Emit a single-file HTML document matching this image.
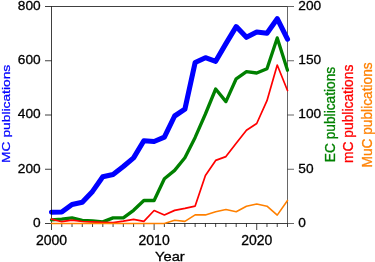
<!DOCTYPE html>
<html><head><meta charset="utf-8"><title>Publications per year</title>
<style>
html,body{margin:0;padding:0;background:#fff;}
svg{display:block;}
text{font-family:"Liberation Sans",Arial,Helvetica,sans-serif;font-size:13.8px;stroke-width:0.3px;}
.t{font-size:13.7px;fill:#000;stroke:#000;}
</style></head><body>
<svg width="375" height="262" viewBox="0 0 375 262">
<rect width="375" height="262" fill="#fff"/>
<g stroke="#000" stroke-width="0.6" fill="none">
<path d="M287.5,6.5 L287.5,223.5"/>
<path d="M287.5,223.50 L294.0,223.50"/>
<path d="M287.5,169.25 L294.0,169.25"/>
<path d="M287.5,115.00 L294.0,115.00"/>
<path d="M287.5,60.75 L294.0,60.75"/>
<path d="M287.5,6.50 L294.0,6.50"/>
</g>
<path d="M51.50,212.30 L61.76,212.00 L72.02,204.50 L82.28,202.30 L92.54,191.40 L102.80,176.80 L113.07,174.40 L123.33,166.50 L133.59,157.90 L143.85,140.70 L154.11,141.50 L164.37,137.20 L174.63,116.00 L184.89,109.20 L195.15,62.50 L205.41,57.70 L215.67,61.30 L225.93,43.60 L236.20,26.60 L246.46,37.30 L256.72,32.00 L266.98,33.20 L277.24,18.70 L287.50,39.20" fill="none" stroke="#0000ff" stroke-width="5.1" stroke-linecap="round" stroke-linejoin="round"/>
<g stroke="#000" stroke-width="0.75" fill="none">
<path d="M51.5,6.5 L51.5,230.0"/>
<path d="M45.0,223.5 L287.5,223.5"/>
<path d="M45.0,6.5 L287.5,6.5"/>
<path d="M45.0,169.25 L51.5,169.25"/>
<path d="M45.0,115.00 L51.5,115.00"/>
<path d="M45.0,60.75 L51.5,60.75"/>
<path d="M61.76,223.5 L61.76,227.0"/>
<path d="M72.02,223.5 L72.02,227.0"/>
<path d="M82.28,223.5 L82.28,227.0"/>
<path d="M92.54,223.5 L92.54,227.0"/>
<path d="M102.80,223.5 L102.80,227.0"/>
<path d="M113.07,223.5 L113.07,227.0"/>
<path d="M123.33,223.5 L123.33,227.0"/>
<path d="M133.59,223.5 L133.59,227.0"/>
<path d="M143.85,223.5 L143.85,227.0"/>
<path d="M154.11,223.5 L154.11,230.0"/>
<path d="M164.37,223.5 L164.37,227.0"/>
<path d="M174.63,223.5 L174.63,227.0"/>
<path d="M184.89,223.5 L184.89,227.0"/>
<path d="M195.15,223.5 L195.15,227.0"/>
<path d="M205.41,223.5 L205.41,227.0"/>
<path d="M215.67,223.5 L215.67,227.0"/>
<path d="M225.93,223.5 L225.93,227.0"/>
<path d="M236.20,223.5 L236.20,227.0"/>
<path d="M246.46,223.5 L246.46,227.0"/>
<path d="M256.72,223.5 L256.72,230.0"/>
<path d="M266.98,223.5 L266.98,227.0"/>
<path d="M277.24,223.5 L277.24,227.0"/>
<path d="M287.50,223.5 L287.50,227.0"/>
</g>
<path d="M51.50,219.90 L61.76,219.20 L72.02,217.90 L82.28,220.40 L92.54,220.90 L102.80,221.90 L113.07,217.90 L123.33,217.90 L133.59,210.30 L143.85,200.50 L154.11,200.50 L164.37,178.70 L174.63,170.40 L184.89,157.80 L195.15,137.40 L205.41,114.00 L215.67,89.00 L225.93,101.60 L236.20,78.80 L246.46,71.70 L256.72,73.00 L266.98,68.70 L277.24,37.90 L287.50,70.30" fill="none" stroke="#008000" stroke-width="3.3" stroke-linecap="round" stroke-linejoin="round"/>
<path d="M51.50,219.10 L61.76,221.70 L72.02,220.20 L82.28,221.50 L92.54,221.90 L102.80,222.30 L113.07,222.60 L123.33,221.20 L133.59,219.30 L143.85,221.40 L154.11,210.50 L164.37,215.00 L174.63,210.40 L184.89,208.40 L195.15,206.10 L205.41,175.40 L215.67,160.40 L225.93,156.60 L236.20,143.20 L246.46,130.20 L256.72,123.50 L266.98,100.70 L277.24,65.00 L287.50,90.50" fill="none" stroke="#ff0000" stroke-width="1.7" stroke-linecap="round" stroke-linejoin="round"/>
<path d="M51.50,223.50 L61.76,223.50 L72.02,223.50 L82.28,223.50 L92.54,223.50 L102.80,223.50 L113.07,223.50 L123.33,223.50 L133.59,223.50 L143.85,223.50 L154.11,223.50 L164.37,223.50 L174.63,220.30 L184.89,221.40 L195.15,214.90 L205.41,214.90 L215.67,211.70 L225.93,209.50 L236.20,211.80 L246.46,206.30 L256.72,204.00 L266.98,206.20 L277.24,215.10 L287.50,200.50" fill="none" stroke="#ff8000" stroke-width="1.6" stroke-linecap="round" stroke-linejoin="round"/>
<text x="40.7" y="226.95" text-anchor="end" class="t">0</text>
<text x="40.7" y="172.70" text-anchor="end" class="t">200</text>
<text x="40.7" y="118.45" text-anchor="end" class="t">400</text>
<text x="40.7" y="64.00" text-anchor="end" class="t">600</text>
<text x="40.7" y="9.75" text-anchor="end" class="t">800</text>
<text x="298.3" y="226.90" class="t">0</text>
<text x="298.3" y="172.65" class="t">50</text>
<text x="298.3" y="118.40" class="t">100</text>
<text x="298.3" y="64.15" class="t">150</text>
<text x="298.3" y="9.90" class="t">200</text>
<text x="51.50" y="244.7" text-anchor="middle" class="t" style="font-size:14px">2000</text>
<text x="154.11" y="244.7" text-anchor="middle" class="t" style="font-size:14px">2010</text>
<text x="256.72" y="244.7" text-anchor="middle" class="t" style="font-size:14px">2020</text>
<text transform="translate(169.90,261.2) scale(1.1,1)" text-anchor="middle" class="t" style="font-size:13.33px">Year</text>
<text transform="translate(9.9,162.88) rotate(-90) scale(1,0.85)" fill="#0000ff" stroke="#0000ff">MC publications</text>
<text transform="translate(334.8,162.13) rotate(-90) scale(0.994,1)" fill="#008000" stroke="#008000">EC publications</text>
<text transform="translate(352.6,163.08) rotate(-90) scale(1.003,1)" fill="#ff0000" stroke="#ff0000">mC publications</text>
<text transform="translate(372.3,167.5) rotate(-90) scale(0.993,1)" fill="#ff8000" stroke="#ff8000">MuC publications</text>
</svg></body></html>
